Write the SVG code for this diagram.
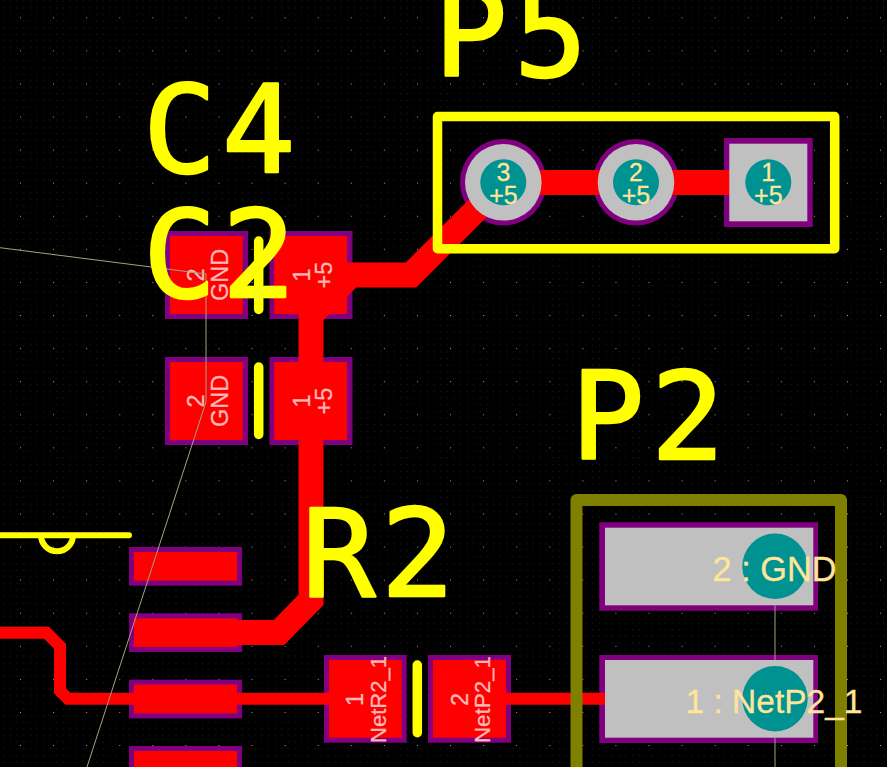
<svg xmlns="http://www.w3.org/2000/svg" width="887" height="767" viewBox="0 0 887 767">
<style>
text{font-family:"Liberation Sans",Arial,sans-serif}
.frame{fill:#800080}
.red{fill:#ff0000}
.grey{fill:#c0c0c0}
.hole{fill:#009191}
.tr{fill:none;stroke:#ff0000;stroke-linejoin:miter;stroke-linecap:butt}
.rat{fill:none;stroke:#a3a385;stroke-width:1}
.silk{fill:none;stroke:#ffff00;stroke-width:9.5;stroke-linecap:round;stroke-linejoin:round}
.ref{font-family:"DejaVu Sans Mono","Liberation Mono",monospace;font-size:122px;fill:#ffff00;stroke:#ffff00;stroke-width:2.4;stroke-linejoin:round}
.pin{fill:#ffb8b8;font-size:23.5px;text-anchor:middle;stroke:#ffb8b8;stroke-width:.3}
.tht{fill:#ffe599;font-size:25px;text-anchor:middle;stroke:#ffe599;stroke-width:.3}
.p2t{fill:#ffe599;text-anchor:middle;stroke:#ffe599;stroke-width:.3}
</style>
<defs>
<pattern id="grid" width="33.08" height="33.08" patternUnits="userSpaceOnUse" x="3.46" y="0.75">
<g fill="#242424">
<rect x="0" y="0" width="1" height="1"/><rect x="6.6" y="0" width="1" height="1"/><rect x="13.2" y="0" width="1" height="1"/><rect x="19.8" y="0" width="1" height="1"/><rect x="26.4" y="0" width="1" height="1"/>
<rect x="0" y="6.6" width="1" height="1"/><rect x="6.6" y="6.6" width="1" height="1"/><rect x="13.2" y="6.6" width="1" height="1"/><rect x="19.8" y="6.6" width="1" height="1"/><rect x="26.4" y="6.6" width="1" height="1"/>
<rect x="0" y="13.2" width="1" height="1"/><rect x="6.6" y="13.2" width="1" height="1"/><rect x="13.2" y="13.2" width="1" height="1"/><rect x="19.8" y="13.2" width="1" height="1"/><rect x="26.4" y="13.2" width="1" height="1"/>
<rect x="0" y="19.8" width="1" height="1"/><rect x="6.6" y="19.8" width="1" height="1"/><rect x="13.2" y="19.8" width="1" height="1"/><rect x="19.8" y="19.8" width="1" height="1"/><rect x="26.4" y="19.8" width="1" height="1"/>
<rect x="0" y="26.4" width="1" height="1"/><rect x="6.6" y="26.4" width="1" height="1"/><rect x="13.2" y="26.4" width="1" height="1"/><rect x="19.8" y="26.4" width="1" height="1"/><rect x="26.4" y="26.4" width="1" height="1"/>
</g>
<rect x="16.54" y="16.54" width="1" height="1" fill="#a0a0a0"/>
</pattern>
</defs>
<rect id="board" width="887" height="767" fill="#000000"/>
<rect width="887" height="767" fill="url(#grid)"/>

<g id="pad-frames" class="frame">
<rect x="165" y="231" width="83" height="88"/>
<rect x="269.5" y="231" width="83" height="88"/>
<rect x="165" y="357" width="83" height="88"/>
<rect x="269.5" y="357" width="83" height="88"/>
<circle cx="503.3" cy="182.3" r="43.3"/>
<circle cx="636" cy="182.3" r="43.3"/>
<rect x="724" y="138" width="88.7" height="89"/>
<rect x="129" y="547" width="113" height="38.7"/>
<rect x="129" y="613.3" width="113" height="38.7"/>
<rect x="129" y="679.7" width="113" height="38.7"/>
<rect x="129" y="746" width="113" height="38.7"/>
<rect x="324" y="655" width="82.7" height="87.7"/>
<rect x="428" y="655" width="83" height="87.7"/>
<rect x="599.3" y="522.3" width="218.7" height="88.4"/>
<rect x="599.3" y="655" width="218.7" height="88"/>
</g>

<g id="connectors">
<path class="tr" stroke-width="25" d="M187 632.5H279L311 600V315L351 275H411L504 182"/>
<path class="tr" stroke-width="25" d="M503 182.5H768"/>
<path class="tr" stroke-width="12" d="M-5 632.7H46.5L60 646.2V690.8L67.9 698.7H340"/>
<path class="tr" stroke-width="12" d="M490 698.7H605"/>
</g>

<g id="P2">
<path d="M576.5 790V500H841V790" fill="none" stroke="#808000" stroke-width="12" stroke-linejoin="round"/>
<rect class="grey" x="605" y="527.7" width="208.3" height="77.6"/>
<circle class="hole" cx="775" cy="566.3" r="32.7"/>
<rect class="grey" x="605" y="660" width="208.3" height="77.7"/>
<circle class="hole" cx="775" cy="698.7" r="32.7"/>
<text class="p2t" style="font-size:34.3px" x="774.5" y="580.7">2 : GND</text>
<text class="p2t" style="font-size:33.5px" x="774" y="712.7">1 : NetP2_1</text>
</g>

<g id="P5-pads">
<circle class="grey" cx="503.3" cy="182.3" r="38.3"/>
<circle class="hole" cx="503.3" cy="182.3" r="23"/>
<text class="tht" x="503.5" y="181">3</text><text class="tht" x="503.5" y="203.5">+5</text>
<circle class="grey" cx="636" cy="182.3" r="38.3"/>
<circle class="hole" cx="636" cy="182.3" r="23"/>
<text class="tht" x="636" y="181">2</text><text class="tht" x="636" y="203.5">+5</text>
<rect class="grey" x="729.3" y="143.7" width="78" height="77.6"/>
<circle class="hole" cx="768.3" cy="182.3" r="23"/>
<text class="tht" x="768.3" y="181">1</text><text class="tht" x="768.3" y="203.5">+5</text>
</g>

<g id="C2-pads">
<rect class="red" x="170" y="236" width="72.7" height="78"/>
<rect class="red" x="274.3" y="236" width="72.7" height="78"/>
<text class="pin" transform="translate(204 275) rotate(-90)">2</text>
<text class="pin" transform="translate(228 275) rotate(-90)">GND</text>
<text class="pin" transform="translate(310 275) rotate(-90)">1</text>
<text class="pin" transform="translate(332 275) rotate(-90)">+5</text>
</g>
<g id="C4-pads">
<rect class="red" x="170" y="362" width="72.7" height="78"/>
<rect class="red" x="274.3" y="362" width="72.7" height="78"/>
<text class="pin" transform="translate(204 401) rotate(-90)">2</text>
<text class="pin" transform="translate(228 401) rotate(-90)">GND</text>
<text class="pin" transform="translate(310 401) rotate(-90)">1</text>
<text class="pin" transform="translate(332 401) rotate(-90)">+5</text>
</g>
<g id="U1-pads" class="red">
<rect x="134" y="552" width="103" height="28.7"/>
<rect x="134" y="618.3" width="103" height="28.7"/>
<rect x="134" y="684.7" width="103" height="28.7"/>
<rect x="134" y="751" width="103" height="28.7"/>
</g>
<g id="R2-pads">
<rect class="red" x="329" y="660" width="72.7" height="77.7"/>
<rect class="red" x="433" y="660" width="73" height="77.7"/>
<text class="pin" transform="translate(363.3 699.5) rotate(-90)">1</text>
<text class="pin" style="font-size:22px" transform="translate(386 699.5) rotate(-90)">NetR2_1</text>
<text class="pin" transform="translate(467.7 699.5) rotate(-90)">2</text>
<text class="pin" style="font-size:22.4px" transform="translate(490 699.5) rotate(-90)">NetP2_1</text>
</g>

<g id="ratsnest">
<path class="rat" d="M0 247.7L206 274V402L87 767"/>
<path class="rat" d="M775 605.3V660M775 737.7V767"/>
</g>

<g id="U1-silk">
<path d="M0 535.3H129M41 535.3A16 16 0 0 0 73 535.3" fill="none" stroke="#ffff00" stroke-width="6" stroke-linecap="round"/>
</g>
<g id="C2-silk">
<path class="silk" d="M258.7 241V309.5"/>
<text class="ref" x="143 222" y="297">C2</text>
<circle cx="258.7" cy="293.3" r="4.2" fill="none" stroke="#e6e68c" stroke-width="1"/>
</g>
<g id="C4-silk">
<path class="silk" d="M258.7 367V434.5"/>
<text class="ref" x="143 222" y="172">C4</text>
</g>
<g id="R2-silk">
<path class="silk" d="M417.3 665V732.7"/>
<text class="ref" x="302 381" y="595.5">R2</text>
</g>
<g id="P5-silk">
<rect x="437.5" y="116.5" width="397.2" height="132.2" fill="none" stroke="#ffff00" stroke-width="9.5" stroke-linejoin="round"/>
<text class="ref" x="434 514" y="75.5">P5</text>
</g>
<g id="P2-silk">
<text class="ref" x="571 651" y="458.5">P2</text>
</g>
</svg>
